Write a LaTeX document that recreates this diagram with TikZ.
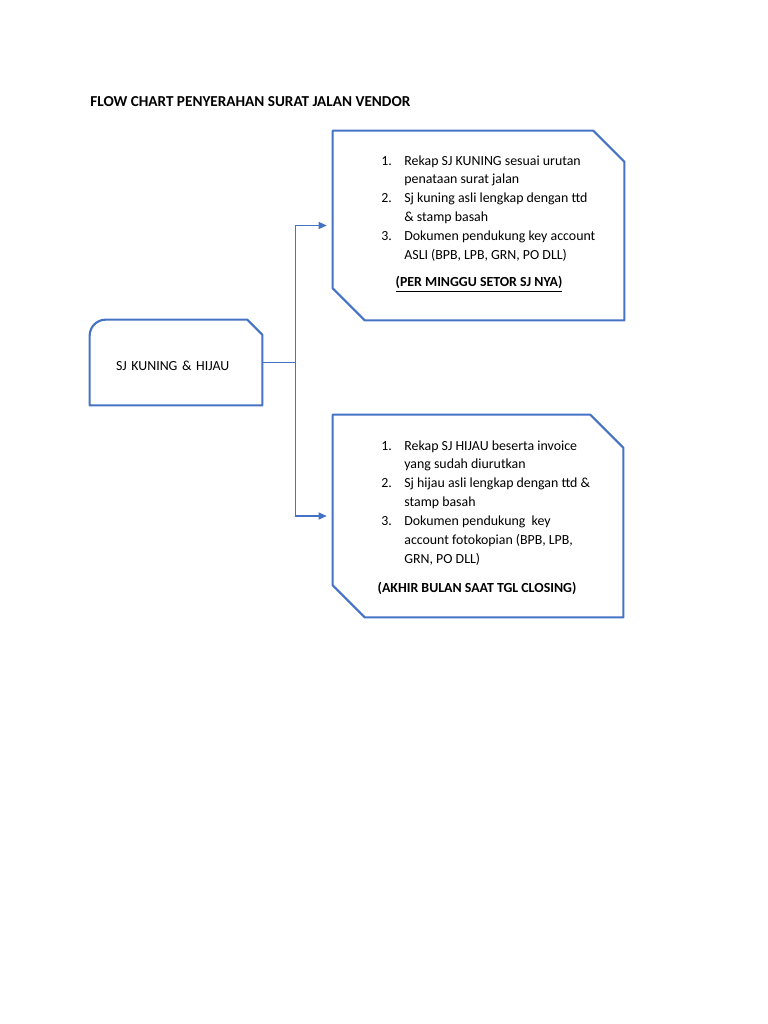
\documentclass[tikz,border=0pt]{standalone}
\usepackage{fontspec}
\setmainfont{Carlito}
\usepackage{tikz}
\usetikzlibrary{arrows.meta, positioning}
\definecolor{boxblue}{RGB}{68, 114, 196}

\begin{document}
\begin{tikzpicture}[
    >={Triangle[length=4.5pt, width=4pt]},
    holder/.style={rectangle, inner sep=0pt, minimum width=#1},
    outline/.style={draw=boxblue, line width=1.2pt, line join=round},
    link/.style={->, boxblue, line width=0.6pt},
    itemlist/.style={anchor=north west, inner sep=0pt, align=left, font=\fontsize{7.9}{10.8}\selectfont},
    period/.style={inner sep=0pt, font=\fontsize{7.9}{10.8}\selectfont\bfseries}
  ]
  \useasboundingbox (0,0) rectangle (15.36,-20.48);

  % Title
  \node[anchor=west, inner sep=0pt, font=\fontsize{8.65}{11}\selectfont\bfseries] (judul) at (1.8,-2.04)
    {FLOW CHART PENYERAHAN SURAT JALAN VENDOR};

  % Source box
  \node[holder=3.44cm, minimum height=1.7cm, text width=2.4cm, inner xsep=0.52cm, align=left,
    font=\fontsize{7.9}{10.8}\selectfont] (sj) at (3.52,-7.25) {\raisebox{-0.15cm}[0pt][0pt]{SJ KUNING \& HIJAU}};
  \draw[outline] (sj.south west) -- ([yshift=-0.32cm]sj.north west)
    arc[start angle=180, end angle=90, radius=0.32cm]
    -- ([xshift=-0.3cm]sj.north east) -- ([yshift=-0.3cm]sj.north east)
    -- (sj.south east) -- cycle;

  % Target boxes
  \node[holder=5.82cm, minimum height=3.78cm] (kuning) at (9.57,-4.51) {};
  \draw[outline] ([xshift=-0.62cm]kuning.north east) -- ([yshift=-0.62cm]kuning.north east)
    -- (kuning.south east) -- ([xshift=0.64cm]kuning.south west)
    -- ([yshift=0.64cm]kuning.south west) -- (kuning.north west) -- cycle;

  \node[holder=5.8cm, minimum height=4.04cm] (hijau) at (9.56,-10.32) {};
  \draw[outline] ([xshift=-0.66cm]hijau.north east) -- ([yshift=-0.66cm]hijau.north east)
    -- (hijau.south east) -- ([xshift=0.64cm]hijau.south west)
    -- ([yshift=0.64cm]hijau.south west) -- (hijau.north west) -- cycle;

  % Box contents
  \node[itemlist] (listkuning) at (7.62,-3.1) {%
    \makebox[0.46cm][l]{1.}Rekap SJ KUNING sesuai urutan\\
    \hspace*{0.46cm}penataan surat jalan\\
    \makebox[0.46cm][l]{2.}Sj kuning asli lengkap dengan ttd\\
    \hspace*{0.46cm}\& stamp basah\\
    \makebox[0.46cm][l]{3.}Dokumen pendukung key account\\
    \hspace*{0.46cm}ASLI (BPB, LPB, GRN, PO DLL)};
  \node[period] (mingguan) at (9.58,-5.68) {\underline{(PER MINGGU SETOR SJ NYA)}};

  \node[itemlist] (listhijau) at (7.62,-8.8) {%
    \makebox[0.46cm][l]{1.}Rekap SJ HIJAU beserta invoice\\
    \hspace*{0.46cm}yang sudah diurutkan\\
    \makebox[0.46cm][l]{2.}Sj hijau asli lengkap dengan ttd \&\\
    \hspace*{0.46cm}stamp basah\\
    \makebox[0.46cm][l]{3.}Dokumen pendukung\ \ key\\
    \hspace*{0.46cm}account fotokopian (BPB, LPB,\\
    \hspace*{0.46cm}GRN, PO DLL)};
  \node[period] (closing) at (9.54,-11.76) {(AKHIR BULAN SAAT TGL CLOSING)};

  % Connectors
  \draw[link, shorten >=0.12cm] (sj.east) -- ++(0.66,0) |- (kuning.west);
  \draw[link, shorten >=0.12cm] (sj.east) -- ++(0.66,0) |- (hijau.west);

\end{tikzpicture}
\end{document}
